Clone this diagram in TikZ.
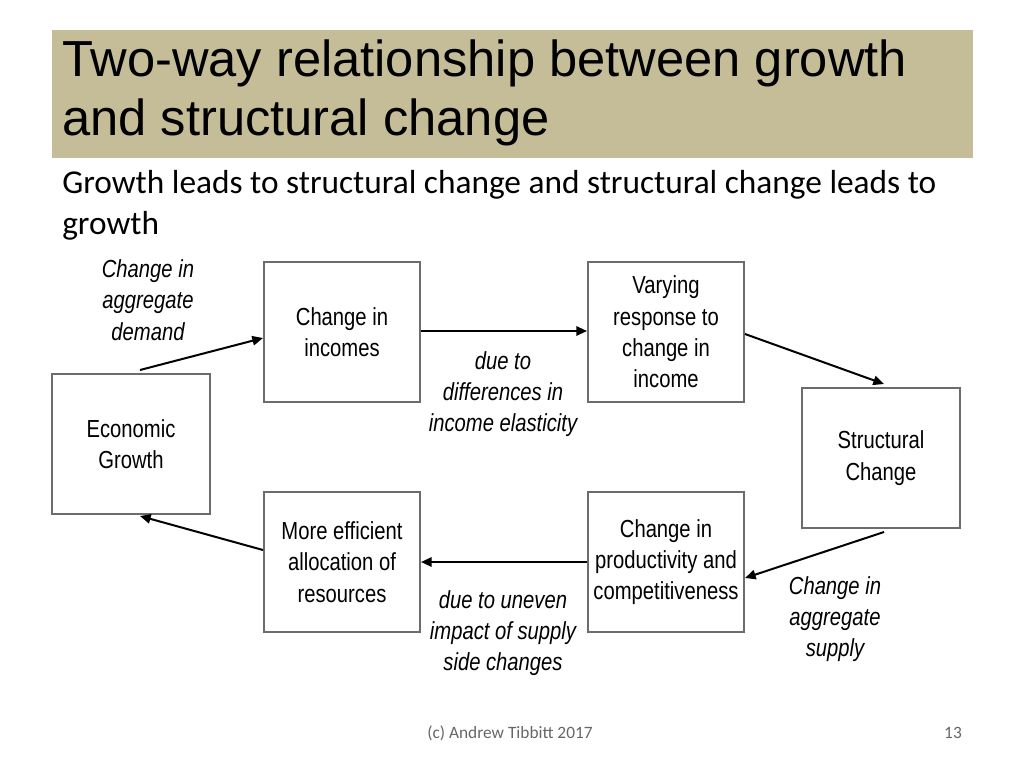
\documentclass[tikz,border=0pt]{standalone}
\usepackage{fontspec}
\setmainfont{Liberation Sans}
\newfontfamily\carl{Carlito}
\newfontfamily\narrow[FakeStretch=0.82]{Liberation Sans}
\usetikzlibrary{arrows.meta}
\definecolor{tan}{RGB}{196,189,151}
\begin{document}
\begin{tikzpicture}[x=0.75pt,y=-0.75pt,
  bx/.style={draw=gray!85!black,line width=1.5pt,fill=white,align=center,font=\narrow\fontsize{18.5}{23.5}\selectfont,inner sep=0pt},
  lab/.style={align=center,font=\narrow\itshape\fontsize{18.5}{23.5}\selectfont},
  ar/.style={-{Triangle[length=8pt,width=7pt]},line width=1.5pt}]
\useasboundingbox (0,0) rectangle (1024,768);
\fill[tan] (52,30) rectangle (973,158);
\node[anchor=north west,align=left,font=\fontsize{38}{44}\selectfont,inner sep=0pt] (title) at (62,40) {Two-way relationship between growth\\and structural change};
\node[anchor=north west,align=left,font=\carl\fontsize{25}{31}\selectfont,inner sep=0pt] (sub) at (62,170) {Growth leads to structural change and structural change leads to\\growth};
\tikzset{bb/.style={bx,minimum width=117pt,minimum height=105pt}}
\node[bb,minimum width=118pt] (eg) at (131,444) {Economic\\Growth};
\node[bb] (ci) at (342,332) {Change in\\incomes};
\node[bb] (vr) at (666,332) {Varying\\response to\\change in\\income};
\node[bb,minimum width=118pt] (sc) at (881,458) {Structural\\Change};
\node[bb] (me) at (342,562) {More efficient\\allocation of\\resources};
\node[bb] (cp) at (666,562) {Change in\\productivity and\\competitiveness};
\coordinate (a1) at (140,370);
\draw[ar] (a1) -- (ci.west|-0,338);
\draw[ar] (ci.east|-0,331) -- (vr.west|-0,331);
\draw[ar] (vr.east|-0,334) -- (884,384);
\coordinate (a4) at (884,532);
\draw[ar] (a4) -- (cp.east|-0,578);
\draw[ar] (cp.west|-0,562) -- (me.east|-0,562);
\coordinate (a6) at (140,516);
\draw[ar] (me.west|-0,550) -- (a6);
\node[lab] (l1) at (148,300) {Change in\\aggregate\\demand};
\node[lab] (l2) at (503,394) {due to\\differences in\\income elasticity};
\node[lab] (l3) at (835,619) {Change in\\aggregate\\supply};
\node[lab] (l4) at (503,633) {due to uneven\\impact of supply\\side changes};
\node[font=\carl\fontsize{13}{15}\selectfont,text=gray!80!black] (ft) at (510,733) {(c) Andrew Tibbitt 2017};
\node[font=\carl\fontsize{13}{15}\selectfont,text=gray!80!black] (pg) at (953,733) {13};
\end{tikzpicture}
\end{document}
